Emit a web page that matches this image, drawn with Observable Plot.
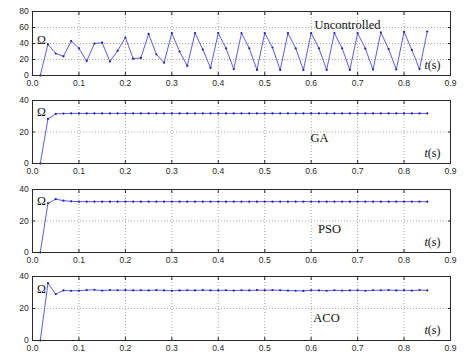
<!DOCTYPE html>
<html><head><meta charset="utf-8">
<script src="https://cdn.jsdelivr.net/npm/d3@7"></script>
<script src="https://cdn.jsdelivr.net/npm/@observablehq/plot@0.6"></script>
<style>
body{margin:0;background:#fff}
#chart{position:relative;width:474px;height:362px;overflow:hidden}
#chart svg{position:absolute;left:0}
</style></head><body><div id="chart"></div>
<script>
const time = [
  0.0167, 0.0333, 0.05, 0.0667, 0.0833, 0.1, 0.1167, 0.1333, 0.15, 0.1667,
  0.1833, 0.2, 0.2167, 0.2333, 0.25, 0.2667, 0.2833, 0.3, 0.3167, 0.3333,
  0.35, 0.3667, 0.3833, 0.4, 0.4167, 0.4333, 0.45, 0.4667, 0.4833, 0.5,
  0.5167, 0.5333, 0.55, 0.5667, 0.5833, 0.6, 0.6167, 0.6333, 0.65, 0.6667,
  0.6833, 0.7, 0.7167, 0.7333, 0.75, 0.7667, 0.7833, 0.8, 0.8167, 0.8333,
  0.85
];
const uncontrolled = [
  0, 39, 27.5, 24, 43, 34, 18, 40, 41, 17.5,
  31, 47.5, 21, 22, 52, 26.5, 16, 53, 30, 12,
  53, 32.5, 9.5, 53, 34, 8, 53, 34, 7, 53,
  35, 7, 53, 34, 7, 53, 34, 7, 53, 34,
  7, 53, 33.5, 7.5, 54, 33, 7.5, 54.5, 32, 8,
  55
];
const ga = [
  0, 28.3, 31.5, 31.7, 31.8, 31.8, 31.8, 31.8, 31.8, 31.8,
  31.8, 31.8, 31.8, 31.8, 31.8, 31.8, 31.8, 31.8, 31.8, 31.8,
  31.8, 31.8, 31.8, 31.8, 31.8, 31.8, 31.8, 31.8, 31.8, 31.8,
  31.8, 31.8, 31.8, 31.8, 31.8, 31.8, 31.8, 31.8, 31.8, 31.8,
  31.8, 31.8, 31.8, 31.8, 31.8, 31.8, 31.8, 31.8, 31.8, 31.8,
  31.8
];
const pso = [
  0, 31.2, 33.9, 32.9, 32.5, 32.3, 32.3, 32.3, 32.3, 32.3,
  32.3, 32.3, 32.3, 32.3, 32.3, 32.3, 32.3, 32.3, 32.3, 32.3,
  32.3, 32.3, 32.3, 32.3, 32.3, 32.3, 32.3, 32.3, 32.3, 32.3,
  32.3, 32.3, 32.3, 32.3, 32.3, 32.3, 32.3, 32.3, 32.3, 32.3,
  32.3, 32.3, 32.3, 32.3, 32.3, 32.3, 32.3, 32.3, 32.3, 32.3,
  32.3
];
const aco = [
  0, 35.8, 29.0, 31.3, 31.1, 31.1, 31.5, 31.7, 31.2, 31.5,
  31.4, 31.5, 31.3, 31.4, 31.3, 31.5, 31.3, 31.1, 31.3, 31.4,
  31.3, 31.5, 31.3, 31.3, 31.4, 31.2, 31.4, 31.3, 31.5, 31.4,
  31.5, 31.4, 31.2, 31.1, 31.0, 31.4, 31.3, 31.1, 31.4, 31.2,
  31.3, 31.4, 31.1, 31.4, 31.4, 31.5, 31.3, 31.4, 31.2, 31.5,
  31.3
];
const xTicks = [0, 0.1, 0.2, 0.3, 0.4, 0.5, 0.6, 0.7, 0.8, 0.9];
const yTicksWide = [0, 20, 40, 60, 80];
const yTicksNarrow = [0, 20, 40];
const panelNames = ["Uncontrolled", "GA", "PSO", "ACO"];
const symbolLabel = "Ω";
const timeLabel = "t(s)";

const series = [uncontrolled, ga, pso, aco];
const layout = [
  {top: 5,   plotH: 64, yMax: 80, yTicks: yTicksWide,   nameAnchor: "top",    nameDx: 106, nameDy: 8.5,  omegaDy: 23.5},
  {top: 94,  plotH: 63, yMax: 40, yTicks: yTicksNarrow, nameAnchor: "bottom", nameDx: 78,  nameDy: -21.5, omegaDy: 7},
  {top: 183, plotH: 63, yMax: 40, yTicks: yTicksNarrow, nameAnchor: "bottom", nameDx: 88,  nameDy: -19.7, omegaDy: 6.5},
  {top: 270, plotH: 64, yMax: 40, yTicks: yTicksNarrow, nameAnchor: "bottom", nameDx: 85,  nameDy: -18.3, omegaDy: 8}
];
const mt = 6, mb = 20;
const serif = "'Liberation Serif', 'Times New Roman', serif";
const container = document.getElementById("chart");

series.forEach((vals, i) => {
  const L = layout[i];
  const data = time.map((t, j) => ({t, v: vals[j]}));
  const svg = Plot.plot({
    width: 474,
    height: mt + L.plotH + mb,
    marginTop: mt, marginBottom: mb, marginLeft: 32, marginRight: 24,
    x: {domain: [0, 0.9], axis: null},
    y: {domain: [0, L.yMax], axis: null},
    style: {fontFamily: "'Liberation Sans', Arial, Helvetica, sans-serif", fontSize: "8.6px", color: "#2a2a2a", background: "transparent"},
    marks: [
      Plot.gridX(xTicks, {stroke: "#8a8a8a", strokeOpacity: 0.75, strokeDasharray: "1,2"}),
      Plot.gridY(L.yTicks, {stroke: "#8a8a8a", strokeOpacity: 0.75, strokeDasharray: "1,2"}),
      Plot.axisX(xTicks, {anchor: "bottom", tickSize: -3, tickPadding: 7.8, label: null}),
      Plot.axisX(xTicks, {anchor: "top", tickSize: -3, tickFormat: () => "", label: null}),
      Plot.axisY(L.yTicks, {anchor: "left", tickSize: -3, tickPadding: 6.8, label: null}),
      Plot.axisY(L.yTicks, {anchor: "right", tickSize: -3, tickFormat: () => "", label: null}),
      Plot.line(data, {x: "t", y: "v", stroke: "#5c5cf2", strokeWidth: 1}),
      Plot.dot(data, {x: "t", y: "v", r: 1.1, fill: "#1f1fb8", stroke: "none"}),
      Plot.frame({stroke: "#2a2a2a"}),
      Plot.text([symbolLabel], {frameAnchor: "top-left", textAnchor: "start", dx: 4.5, dy: L.omegaDy, fontFamily: serif, fontSize: 12, fill: "#111"}),
      Plot.text([panelNames[i]], {frameAnchor: L.nameAnchor, dx: L.nameDx, dy: L.nameDy, fontFamily: serif, fontSize: 12.5, fill: "#111"}),
      Plot.text([timeLabel], {frameAnchor: "bottom-right", textAnchor: "end", dx: -10, dy: -7, fontFamily: serif, fontSize: 12, fill: "#111"})
    ]
  });
  svg.style.top = (L.top) + "px";
  const ns = "http://www.w3.org/2000/svg";
  svg.querySelectorAll("text").forEach(el => {
    if (el.textContent === timeLabel) {
      el.textContent = "";
      const a = document.createElementNS(ns, "tspan");
      a.setAttribute("font-style", "italic");
      a.textContent = "t";
      const b = document.createElementNS(ns, "tspan");
      b.textContent = "(s)";
      el.append(a, b);
    }
  });
  container.appendChild(svg);
});
</script></body></html>
